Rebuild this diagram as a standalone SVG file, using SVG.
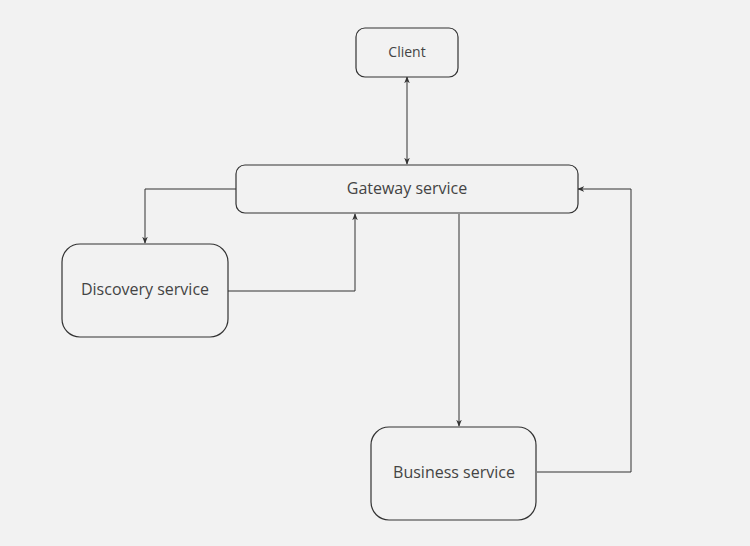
<svg xmlns="http://www.w3.org/2000/svg" width="750" height="546" viewBox="0 0 750 546">
<style>
.n{fill:#f2f2f2;stroke:#333;stroke-width:1.2}
.t{font-family:"Open Sans",sans-serif;fill:#444;text-anchor:middle}
.c{fill:none;stroke:#333;stroke-width:1}
</style>
<defs><marker id="a" viewBox="0 0 10 10" refX="9" refY="5" markerWidth="7" markerHeight="7" orient="auto-start-reverse"><path d="M0,1 L10,5 L0,9 L3,5 Z" fill="#333"/></marker></defs>
<rect width="750" height="546" fill="#f2f2f2"/>
<g id="connectors">
<path class="c" d="M407,77 V164" marker-start="url(#a)" marker-end="url(#a)"/>
<path class="c" d="M236,189 H145 V243" marker-end="url(#a)"/>
<path class="c" d="M228,291 H355 V214" marker-end="url(#a)"/>
<path class="c" d="M459,214 V426" marker-end="url(#a)"/>
<path class="c" d="M537,472 H631 V189 H578" marker-end="url(#a)"/>
</g>
<g id="client"><rect class="n" x="356" y="28" width="102" height="49" rx="9"/><text class="t" x="407" y="57" font-size="14">Client</text></g>
<g id="gateway"><rect class="n" x="236" y="165" width="342" height="48" rx="9"/><text class="t" x="407" y="194" font-size="16">Gateway service</text></g>
<g id="discovery"><rect class="n" x="62" y="244" width="166" height="93" rx="18"/><text class="t" x="145" y="295" font-size="16">Discovery service</text></g>
<g id="business"><rect class="n" x="371" y="427" width="165" height="93" rx="18"/><text class="t" x="454" y="478" font-size="16">Business service</text></g>
</svg>
